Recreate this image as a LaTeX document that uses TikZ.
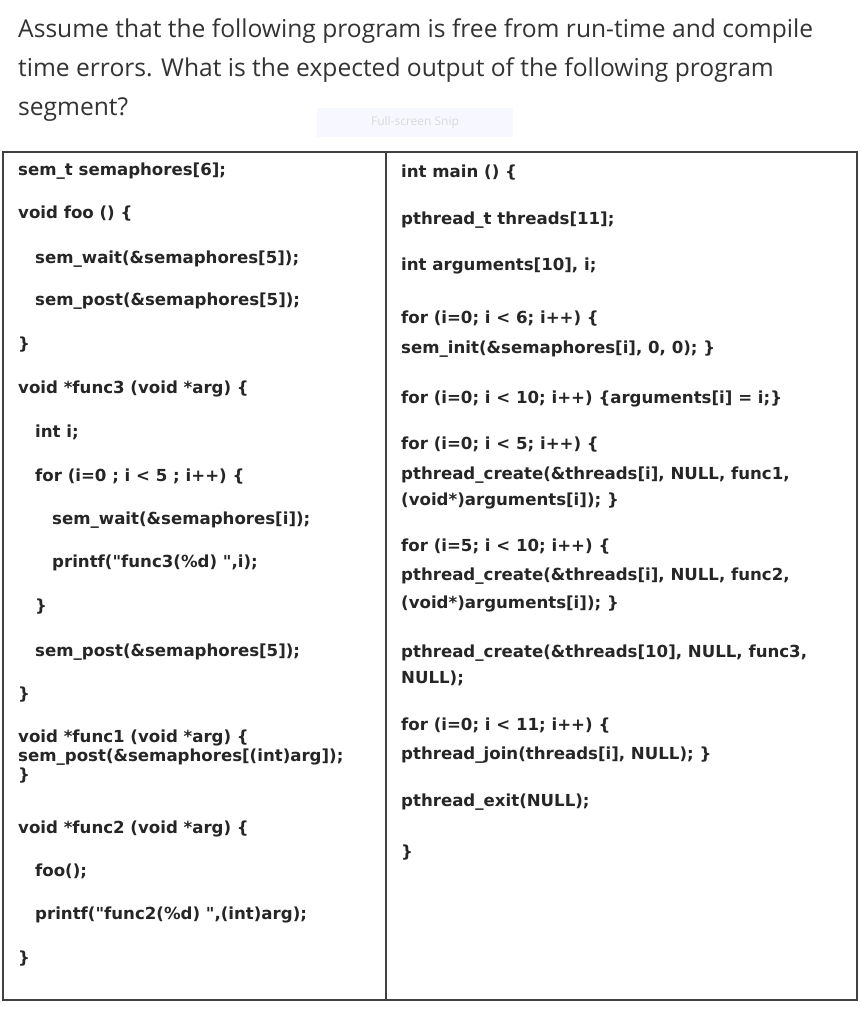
\documentclass[tikz,border=0pt]{standalone}
\usepackage{fontspec}
\setmainfont{DejaVu Sans}
\newfontfamily\plainq{DejaVu Sans}[Ligatures=ResetAll]
\newfontfamily\titlefont{Open Sans}
\newcommand{\dq}{{\plainq\bfseries\symbol{34}}}
\begin{document}
\begin{tikzpicture}[x=1pt,y=-1pt,
  code/.style={anchor=base west,inner sep=0pt,font=\fontsize{16.6}{19}\selectfont\bfseries,text=black!85},
  ttl/.style={anchor=base west,inner sep=0pt,font=\titlefont\fontsize{24.6}{28}\selectfont,text=black!80}]
\useasboundingbox[fill=white] (0,0) rectangle (860,1014);
\node[ttl] (t1) at (18,38) {Assume that the following program is free from run-time and compile};
\node[ttl] (t2) at (18,77) {time errors. What is the expected output of the following program};
\node[ttl] (t3) at (18,116) {segment?};
\fill[blue!3] (317,108) rectangle (513,137);
\node[text=black!15,font=\titlefont\fontsize{12}{14}\selectfont] (snip) at (415,122) {Full-screen Snip};
\draw[black!75,line width=1.3pt] (3,152) rectangle (857,1000);
\draw[black!75,line width=1.3pt] (386,152) -- (386,1000);
% left
\node[code] (l1) at (18,175) {sem\_t semaphores[6];};
\node[code] (l2) at (18,218) {void foo () \{};
\node[code] (l3) at (35,263) {sem\_wait(\&semaphores[5]);};
\node[code] (l4) at (35,305) {sem\_post(\&semaphores[5]);};
\node[code] (l5) at (18,349) {\}};
\node[code] (l6) at (18,393) {void *func3 (void *arg) \{};
\node[code] (l7) at (35,437) {int i;};
\node[code] (l8) at (35,481) {for (i=0 ; i < 5 ; i++) \{};
\node[code] (l9) at (52,524) {sem\_wait(\&semaphores[i]);};
\node[code] (l10) at (52,567) {printf(\dq func3(\%d) \dq,i);};
\node[code] (l11) at (35,611) {\}};
\node[code] (l12) at (35,656) {sem\_post(\&semaphores[5]);};
\node[code] (l13) at (18,699) {\}};
\node[code] (l14) at (18,742) {void *func1 (void *arg) \{};
\node[code] (l15) at (18,761) {sem\_post(\&semaphores[(int)arg]);};
\node[code] (l16) at (18,780) {\}};
\node[code] (l17) at (18,833) {void *func2 (void *arg) \{};
\node[code] (l18) at (35,876) {foo();};
\node[code] (l19) at (35,919) {printf(\dq func2(\%d) \dq,(int)arg);};
\node[code] (l20) at (18,963) {\}};
% right
\node[code] (r1) at (401,177) {int main () \{};
\node[code] (r2) at (401,224) {pthread\_t threads[11];};
\node[code] (r3) at (401,270) {int arguments[10], i;};
\node[code] (r4) at (401,323) {for (i=0; i < 6; i++) \{};
\node[code] (r5) at (401,353) {sem\_init(\&semaphores[i], 0, 0); \}};
\node[code] (r6) at (401,403) {for (i=0; i < 10; i++) \{arguments[i] = i;\}};
\node[code] (r7) at (401,449) {for (i=0; i < 5; i++) \{};
\node[code] (r8) at (401,479) {pthread\_create(\&threads[i], NULL, func1,};
\node[code] (r9) at (401,505) {(void*)arguments[i]); \}};
\node[code] (r10) at (401,551) {for (i=5; i < 10; i++) \{};
\node[code] (r11) at (401,580) {pthread\_create(\&threads[i], NULL, func2,};
\node[code] (r12) at (401,608) {(void*)arguments[i]); \}};
\node[code] (r13) at (401,657) {pthread\_create(\&threads[10], NULL, func3,};
\node[code] (r14) at (401,683) {NULL);};
\node[code] (r15) at (401,730) {for (i=0; i < 11; i++) \{};
\node[code] (r16) at (401,759) {pthread\_join(threads[i], NULL); \}};
\node[code] (r17) at (401,806) {pthread\_exit(NULL);};
\node[code] (r18) at (401,857) {\}};
\end{tikzpicture}
\end{document}
